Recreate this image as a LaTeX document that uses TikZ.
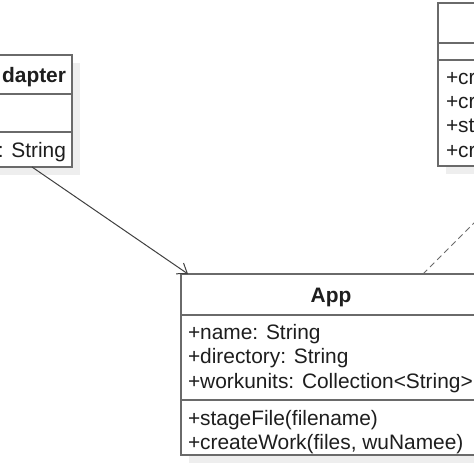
\documentclass[tikz,border=0pt]{standalone}
\usepackage{fontspec}
\setmainfont{Liberation Sans}
\usetikzlibrary{arrows.meta}
\definecolor{boxline}{HTML}{6A6A6A}
\definecolor{txt}{HTML}{1E1E1E}
\definecolor{shade}{HTML}{EEEEEE}
\definecolor{connc}{HTML}{404040}
\tikzset{
  umlbox/.style={draw=boxline, line width=1.5pt, fill=white, inner sep=0pt, outer sep=0pt, anchor=north west},
  boxshadow/.style={fill=shade, draw=none},
  sepline/.style={draw=boxline, line width=1.5pt},
  lbl/.style={inner sep=0pt, outer sep=0pt, text=txt, font=\fontsize{20.9}{24.5}\selectfont},
  conn/.style={draw=connc, line width=1pt},
  dep/.style={draw=boxline, line width=1pt, dash pattern=on 6pt off 4pt}
}
\begin{document}
\begin{tikzpicture}[x=1pt,y=-1pt]
\useasboundingbox (0,0) rectangle (474,474);
\clip (0,0) rectangle (474,474);
\fill[white] (0,0) rectangle (474,474);
% shadows
\fill[boxshadow] (-132,63) rectangle (80,175);
\fill[boxshadow] (446,11) rectangle (568,174);
\fill[boxshadow] (189,282) rectangle (489,463);
% Adapter box
\node[umlbox, minimum width=212pt, minimum height=112pt] (adapter) at (-140,55) {};
\draw[sepline] (-140,94) -- (72,94);
\draw[sepline] (-140,132) -- (72,132);
\node[lbl, anchor=base east] (adtitle) at (66,82.5) {\bfseries dapter};
\node[lbl, anchor=base east] (adattr) at (66,157) {: String};
% top right box
\node[umlbox, minimum width=122pt, minimum height=163pt] (work) at (438,3) {};
\draw[sepline] (438,43) -- (560,43);
\draw[sepline] (438,60) -- (560,60);
\node[lbl, anchor=base west] (w1) at (446,84) {+cr};
\node[lbl, anchor=base west] (w2) at (446,108) {+cr};
\node[lbl, anchor=base west] (w3) at (446,132) {+st};
\node[lbl, anchor=base west] (w4) at (446,157) {+cr};
% App box
\node[umlbox, minimum width=300pt, minimum height=181pt] (app) at (181,274) {};
\draw[sepline] (181,315) -- (481,315);
\draw[sepline] (181,400) -- (481,400);
\node[lbl, anchor=base] (apptitle) at (331,302) {\bfseries App};
\node[lbl, anchor=base west] (a1) at (188,339) {+name: String};
\node[lbl, anchor=base west] (a2) at (188,363.5) {+directory: String};
\node[lbl, anchor=base west] (a3) at (188,388) {+workunits: Collection<String>};
\node[lbl, anchor=base west] (m1) at (188,425) {+stageFile(filename)};
\node[lbl, anchor=base west] (m2) at (188,449) {+createWork(files, wuNamee)};
% connectors
\coordinate (adtail) at (32,167);
\coordinate (apphead) at (188,274);
\draw[conn, -{Straight Barb[length=9pt, width=13pt]}] (adtail) -- (apphead);
\coordinate (depstart) at (423,274);
\coordinate (depend) at (530,167);
\draw[dep] (depstart) -- (depend);
\end{tikzpicture}
\end{document}
